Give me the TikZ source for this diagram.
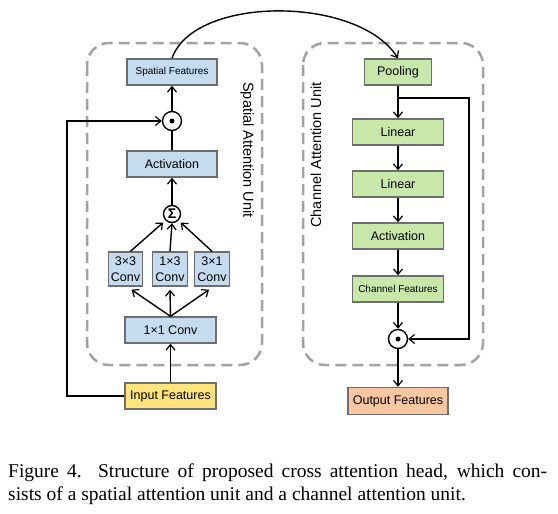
\documentclass[tikz,border=0pt]{standalone}
\usepackage{fontspec}
\setmainfont{Liberation Sans}
\newfontfamily\capfont{Liberation Serif}
\usetikzlibrary{arrows.meta,calc}
\definecolor{bfill}{HTML}{C5DCF0}
\definecolor{gfill}{HTML}{C8E8AA}
\definecolor{yfill}{HTML}{FFE47C}
\definecolor{ofill}{HTML}{F9C6A2}
\definecolor{bordc}{HTML}{6E6E6E}
\definecolor{dashc}{HTML}{A2A2A2}
\begin{document}
\begin{tikzpicture}[x=1pt,y=-1pt,
  box/.style={draw=bordc, line width=1.4pt, minimum height=26pt, inner sep=1pt,
    font=\fontsize{12.5}{16}\selectfont, align=center},
  smallbox/.style={box, font=\fontsize{10}{12}\selectfont},
  opc/.style={draw=black, circle, line width=1.4pt, minimum size=19pt, inner sep=0pt},
  arr/.style={-{Straight Barb[length=5.5pt,width=9pt,line width=1.2pt]}, line width=1.4pt},
  ln/.style={line width=1.4pt},
  unit/.style={draw=dashc, line width=2.5pt, dash pattern=on 11pt off 6pt, rounded corners=22pt},
  lab/.style={font=\fontsize{14.5}{16}\selectfont}
]
\useasboundingbox (0,0) rectangle (558,514);
% dashed unit frames
\draw[unit] (87,43) rectangle (262,365);
\draw[unit] (303,43) rectangle (483,365);
\node[lab, rotate=-90] (slab) at (247,150) {Spatial Attention Unit};
\node[lab, rotate=90] (clab) at (316,155) {Channel Attention Unit};

% spatial column
\node[smallbox, fill=bfill, minimum width=90pt] (sf) at (172,72) {Spatial Features};
\node[opc] (od1) at (172,121) {};
\fill (od1) circle (2.5pt);
\node[box, fill=bfill, minimum width=90pt] (act1) at (172,164) {Activation};
\node[draw=black, circle, line width=1.4pt, minimum size=17pt, inner sep=0pt,
  font=\fontsize{14}{14}\selectfont\bfseries] (sig) at (172,214) {Σ};
\node[box, fill=bfill, minimum width=34pt, minimum height=34pt, inner sep=0pt] (c33) at (125.5,269) {3×3\\Conv};
\node[box, fill=bfill, minimum width=35pt, minimum height=34pt, inner sep=0pt] (c13) at (170,269) {1×3\\Conv};
\node[box, fill=bfill, minimum width=35pt, minimum height=34pt, inner sep=0pt] (c31) at (212,269) {3×1\\Conv};
\node[box, fill=bfill, minimum width=91pt] (c11) at (170.5,330) {1×1 Conv};
\node[box, fill=yfill, minimum width=91pt] (inp) at (170.5,396) {Input Features};

\draw[arr] (inp.north) -- (c11.north |- c11.south);
\draw[arr] (c11.north) -- ([xshift=6pt,yshift=-3pt]c33.south);
\draw[arr] (c11.north) -- ([yshift=-3pt]c13.south);
\draw[arr] (c11.north) -- ([xshift=-3pt,yshift=-3pt]c31.south);
\draw[arr, shorten >=3pt] ([xshift=5pt]c33.north) -- (sig.south west);
\draw[arr] (c13.north) -- (sig.south);
\draw[arr, shorten >=3pt] ([xshift=0pt]c31.north) -- (sig.south east);
\draw[arr] (sig.north) -- (act1.south);
\draw[ln] (act1.north) -- (od1.south);
\draw[arr] (od1.north) -- (sf.south);
\coordinate (lx) at (67,396);
\draw[arr] (inp.west) -- (lx) |- (od1.west);

% channel column
\node[box, fill=gfill, minimum width=67pt] (pool) at (398,72) {Pooling};
\node[box, fill=gfill, minimum width=91pt] (lin1) at (398,132) {Linear};
\node[box, fill=gfill, minimum width=91pt] (lin2) at (398,184) {Linear};
\node[box, fill=gfill, minimum width=91pt] (act2) at (398,236) {Activation};
\node[smallbox, fill=gfill, minimum width=91pt] (cf) at (398,289) {Channel Features};
\node[opc] (od2) at (398,339) {};
\fill (od2) circle (2.5pt);
\node[box, fill=ofill, minimum width=100pt, minimum height=27pt] (out) at (398,401) {Output Features};

\draw[arr] (pool.south) -- (lin1.north);
\draw[arr] (lin1.south) -- (lin2.north);
\draw[arr] (lin2.south) -- (act2.north);
\draw[arr] (act2.south) -- (cf.north);
\draw[arr] (cf.south) -- (od2.north);
\draw[arr] (od2.south) -- (out.north);
\coordinate (br) at (398,98);
\coordinate (rx) at (469,98);
\draw[arr] (br) -- (rx) |- (od2.east);

% cross connection
\draw[arr] (sf.north) .. controls ($(sf.north)+(22,-63)$) and ($(pool.north)+(-40,-63)$) .. (pool.north);

% caption
\node[anchor=north west, inner sep=0pt, text width=539pt, align=justify,
  font=\capfont\fontsize{19.5}{22.5}\selectfont] (cap) at (8,464)
  {Figure 4.\ \ Structure of proposed cross attention head, which con-\linebreak sists of a spatial attention unit and a channel attention unit.};
\end{tikzpicture}
\end{document}
